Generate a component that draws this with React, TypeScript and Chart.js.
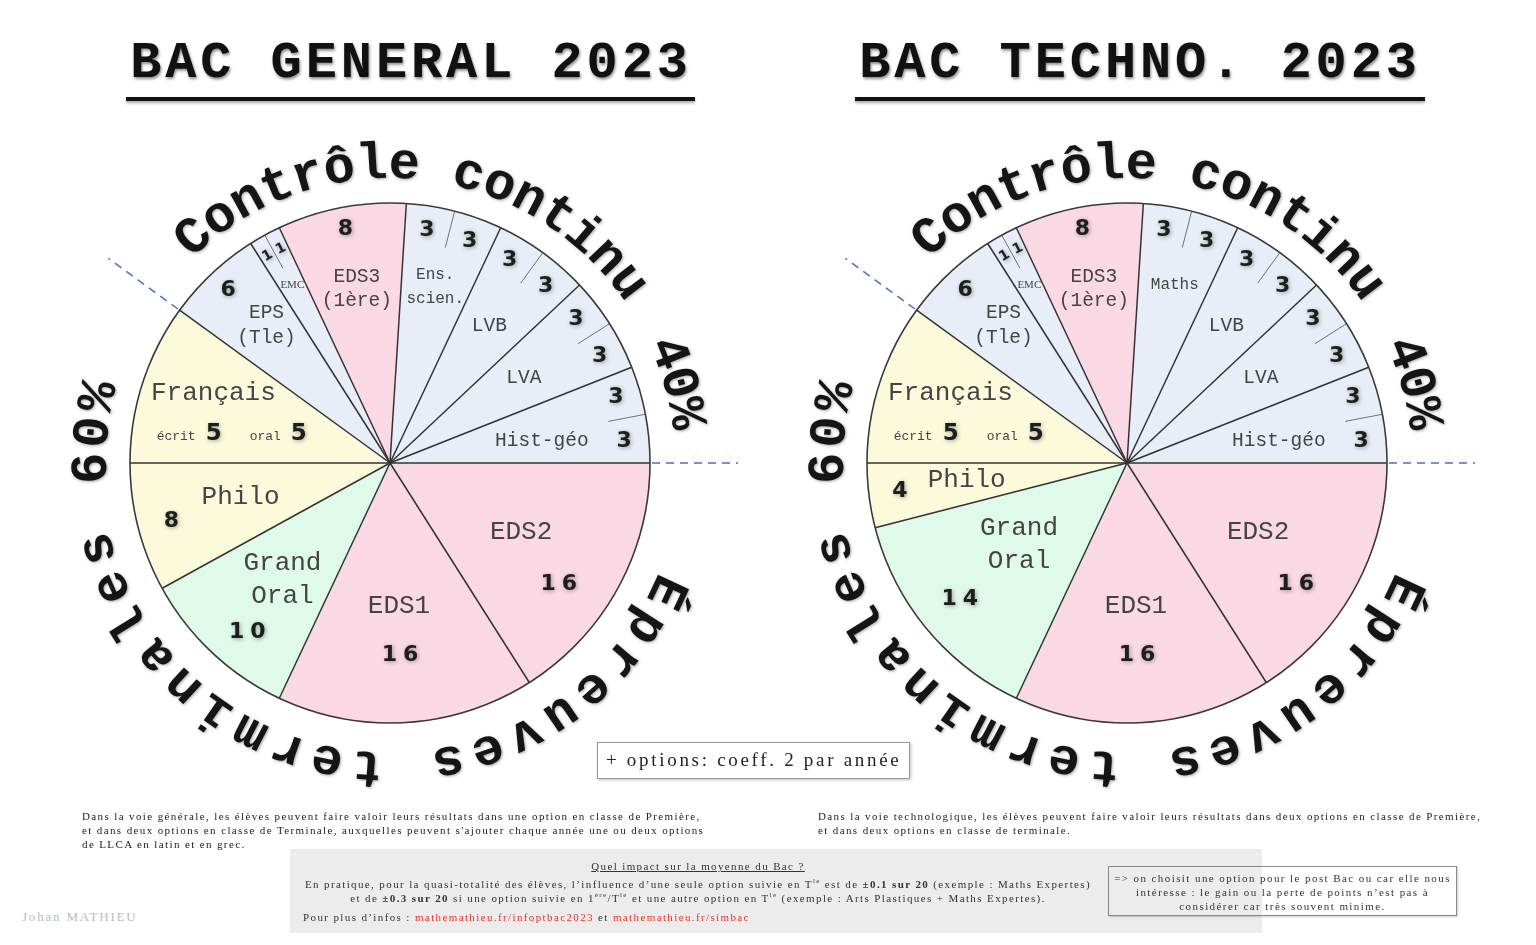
import React, { useEffect, useRef } from 'react';
import { Chart, registerables } from 'chart.js';
Chart.register(...registerables);

// ---------- DATA ----------
const GEN_SLICES = ['EDS2', 'EDS1', 'Grand Oral', 'Philo', 'Français', 'EPS (Tle)', 'EMC', 'EMC', 'EDS3 (1ère)', 'Ens. scien.', 'Ens. scien.', 'LVB', 'LVB', 'LVA', 'LVA', 'Hist-géo', 'Hist-géo'];
const GEN_COEFFS = [16, 16, 10, 8, 10, 6, 1, 1, 8, 3, 3, 3, 3, 3, 3, 3, 3];
const TECH_SLICES = ['EDS2', 'EDS1', 'Grand Oral', 'Philo', 'Français', 'EPS (Tle)', 'EMC', 'EMC', 'EDS3 (1ère)', 'Maths', 'Maths', 'LVB', 'LVB', 'LVA', 'LVA', 'Hist-géo', 'Hist-géo'];
const TECH_COEFFS = [16, 16, 14, 4, 10, 6, 1, 1, 8, 3, 3, 3, 3, 3, 3, 3, 3];
const FRANCAIS_PARTS = ['écrit', 'oral'];
const FRANCAIS_COEFFS = [5, 5];
const SPLIT_SLICES = ['EDS2', 'EPS (Tle)']; // boundaries 60% / 40%
const TOP_ARC_TEXT = 'Contrôle continu';
const RIGHT_PCT = '40%';
const LEFT_PCT = '60%';
const BOTTOM_ARC_TEXT = 'Épreuves terminales';
const TITLES = ['BAC GENERAL 2023', 'BAC TECHNO. 2023'];

// ---------- STYLE / LAYOUT ----------
const MONO = '"Liberation Mono", "Courier New", monospace';
const SERIF = '"Liberation Serif", "Times New Roman", serif';
const SANS = '"DejaVu Sans", Verdana, sans-serif';

function sliceColor(name: string) {
  if (name.startsWith('EDS')) return '#fad8e4';
  if (name === 'Grand Oral') return '#dff9eb';
  if (name === 'Philo' || name === 'Français') return '#fbfbdc';
  return '#e9edf8';
}

type NL = { r: number; da: number; size: number; lh: number; font?: string };
const BASE_NAME_LAYOUT: Record<string, NL> = {
  'EDS2': { r: 0.57, da: -1, size: 26, lh: 30 },
  'EDS1': { r: 0.55, da: 0, size: 26, lh: 30 },
  'Grand Oral': { r: 0.61, da: -0.5, size: 26, lh: 33 },
  'Philo': { r: 0.59, da: 1.4, size: 26, lh: 30 },
  'Français': { r: 0.73, da: 3.5, size: 26, lh: 30 },
  'EPS (Tle)': { r: 0.71, da: 1.2, size: 19.5, lh: 25 },
  'EMC': { r: 0.78, da: 0, size: 11, lh: 12, font: SERIF },
  'EDS3 (1ère)': { r: 0.68, da: 0, size: 19.5, lh: 24 },
  'Ens. scien.': { r: 0.70, da: 0, size: 16, lh: 24 },
  'Maths': { r: 0.71, da: 0.6, size: 16, lh: 24 },
  'LVB': { r: 0.65, da: 0, size: 19.5, lh: 24 },
  'LVA': { r: 0.61, da: 0, size: 19.5, lh: 24 },
  'Hist-géo': { r: 0.59, da: 2.6, size: 19.5, lh: 24 },
};
const GEN_NAME_LAYOUT = BASE_NAME_LAYOUT;
const TECH_NAME_LAYOUT: Record<string, NL> = {
  ...BASE_NAME_LAYOUT,
  'Grand Oral': { r: 0.52, da: 2.6, size: 26, lh: 33 },
  'Philo': { r: 0.62, da: 1.2, size: 26, lh: 30 },
};
const SUB_POS: [number, number] = [0.905, 0];
const GEN_VALUE_POS: [number, number][] = [[0.8, 7], [0.74, 0.6], [0.85, -3], [0.87, -0.6], [0.62, -7], [0.91, 0], [0.925, 0], [0.925, 0], [0.915, 0], SUB_POS, SUB_POS, SUB_POS, SUB_POS, SUB_POS, SUB_POS, SUB_POS, SUB_POS];
const TECH_VALUE_POS: [number, number][] = [[0.8, 7], [0.74, 0.6], [0.83, 0.4], [0.88, 0.2], [0.62, -7], [0.91, 0], [0.925, 0], [0.925, 0], [0.915, 0], SUB_POS, SUB_POS, SUB_POS, SUB_POS, SUB_POS, SUB_POS, SUB_POS, SUB_POS];

const CURVED = [
  { t: TOP_ARC_TEXT, start: -131, step: 6.25, r: 285 },
  { t: RIGHT_PCT, start: -21.5, step: 6, r: 285 },
  { t: LEFT_PCT, start: 179, step: 6.9, r: 284 },
  { t: BOTTOM_ARC_TEXT, start: 25, step: 7.7, r: 290 },
];

type Spec = { slices: string[]; coeffs: number[]; names: Record<string, NL>; vpos: [number, number][] };

function drawNumber(ctx: CanvasRenderingContext2D, text: string, x: number, y: number, size: number) {
  ctx.save();
  ctx.font = `bold ${size}px ${SANS}`;
  ctx.fillStyle = '#1e1e1e';
  ctx.shadowColor = 'rgba(0,0,0,0.35)';
  ctx.shadowBlur = 4;
  ctx.shadowOffsetX = 1;
  ctx.shadowOffsetY = 1;
  ctx.textBaseline = 'middle';
  const sp = text.length > 1 ? 6 : 0;
  (ctx as any).letterSpacing = sp + 'px';
  ctx.textAlign = 'left';
  const w = ctx.measureText(text).width - sp;
  ctx.fillText(text, x - w / 2, y);
  ctx.restore();
}

function makePlugin(spec: Spec) {
  return {
    id: 'decor',
    afterDatasetsDraw(chart: any) {
      const ctx: CanvasRenderingContext2D = chart.ctx;
      const arcs: any[] = chart.getDatasetMeta(0).data;
      const n = arcs.length;
      const cx = arcs[0].x, cy = arcs[0].y, R = arcs[0].outerRadius;
      const D = Math.PI / 180;
      const pt = (r: number, a: number) => [cx + r * Math.cos(a), cy + r * Math.sin(a)];
      ctx.save();
      // dividers
      arcs.forEach((arc, i) => {
        const prev = spec.slices[(i - 1 + n) % n];
        const a = arc.startAngle;
        ctx.beginPath();
        if (prev === spec.slices[i]) {
          const [x1, y1] = pt(R * 0.855, a);
          const [x2, y2] = pt(R, a);
          ctx.moveTo(x1, y1); ctx.lineTo(x2, y2);
          ctx.strokeStyle = '#707070'; ctx.lineWidth = 1;
        } else {
          const [x2, y2] = pt(R, a);
          ctx.moveTo(cx, cy); ctx.lineTo(x2, y2);
          ctx.strokeStyle = '#333'; ctx.lineWidth = 1.5;
        }
        ctx.stroke();
      });
      ctx.beginPath();
      ctx.arc(cx, cy, R, 0, Math.PI * 2);
      ctx.strokeStyle = '#3a3a3a'; ctx.lineWidth = 1.6; ctx.stroke();
      // dashed split lines
      SPLIT_SLICES.forEach((s) => {
        const idx = spec.slices.indexOf(s);
        const a = arcs[idx].startAngle;
        const [x1, y1] = pt(R + 2, a);
        const [x2, y2] = pt(R + 88, a);
        ctx.save();
        ctx.setLineDash([8, 6]);
        ctx.strokeStyle = '#4a6fc4'; ctx.lineWidth = 1.5;
        ctx.beginPath(); ctx.moveTo(x1, y1); ctx.lineTo(x2, y2); ctx.stroke();
        ctx.restore();
      });
      // group names
      let i = 0;
      while (i < n) {
        let j = i;
        while (j + 1 < n && spec.slices[j + 1] === spec.slices[i]) j++;
        const name = spec.slices[i];
        const L = spec.names[name];
        const mid = (arcs[i].startAngle + arcs[j].endAngle) / 2 + L.da * D;
        const [x, y] = pt(R * L.r, mid);
        const lines = name.split(' ');
        ctx.save();
        ctx.font = `${L.size}px ${L.font || MONO}`;
        ctx.fillStyle = '#444';
        ctx.textAlign = 'center';
        ctx.textBaseline = 'middle';
        lines.forEach((ln, k) => ctx.fillText(ln, x, y + (k - (lines.length - 1) / 2) * L.lh));
        ctx.restore();
        i = j + 1;
      }
      // values
      arcs.forEach((arc, k) => {
        const [rf, da] = spec.vpos[k];
        const mid = (arc.startAngle + arc.endAngle) / 2 + da * D;
        const [x, y] = pt(R * rf, mid);
        if (spec.slices[k] === 'Français') {
          ctx.save();
          const smallFont = `13px ${MONO}`;
          const numFont = `bold 23px ${SANS}`;
          const parts: { t: string; f: string; num: boolean }[] = [];
          FRANCAIS_PARTS.forEach((p, q) => {
            parts.push({ t: p, f: smallFont, num: false });
            parts.push({ t: String(FRANCAIS_COEFFS[q]), f: numFont, num: true });
          });
          const gaps = [10, 28, 10, 0];
          let total = 0;
          parts.forEach((p, q) => { ctx.font = p.f; total += ctx.measureText(p.t).width + gaps[q]; });
          let xx = x - total / 2;
          ctx.textBaseline = 'alphabetic';
          ctx.textAlign = 'left';
          parts.forEach((p, q) => {
            ctx.font = p.f;
            ctx.save();
            if (p.num) {
              ctx.fillStyle = '#1e1e1e';
              ctx.shadowColor = 'rgba(0,0,0,0.35)'; ctx.shadowBlur = 4; ctx.shadowOffsetX = 1; ctx.shadowOffsetY = 1;
            } else ctx.fillStyle = '#444';
            ctx.fillText(p.t, xx, y + 8);
            ctx.restore();
            xx += ctx.measureText(p.t).width + gaps[q];
          });
          ctx.restore();
          return;
        }
        const txt = String(spec.coeffs[k]);
        if (arc.endAngle - arc.startAngle < 5 * D) {
          ctx.save();
          ctx.translate(x, y);
          ctx.rotate(mid + Math.PI / 2);
          drawNumber(ctx, txt, 0, 0, 14);
          ctx.restore();
        } else {
          drawNumber(ctx, txt, x, y, 22);
        }
      });
      // curved texts
      ctx.font = `bold 52px ${MONO}`;
      ctx.fillStyle = '#151515';
      ctx.textAlign = 'center';
      ctx.textBaseline = 'alphabetic';
      ctx.shadowColor = 'rgba(0,0,0,0.35)';
      ctx.shadowBlur = 3; ctx.shadowOffsetX = 1; ctx.shadowOffsetY = 1;
      CURVED.forEach((c) => {
        Array.from(c.t).forEach((ch, q) => {
          const a = (c.start + q * c.step) * D;
          ctx.save();
          ctx.translate(cx + c.r * Math.cos(a), cy + c.r * Math.sin(a));
          ctx.rotate(a + Math.PI / 2);
          ctx.fillText(ch, 0, 0);
          ctx.restore();
        });
      });
      ctx.restore();
    },
  };
}

function PieCanvas({ spec, left, top }: { spec: Spec; left: number; top: number }) {
  const ref = useRef<HTMLCanvasElement>(null);
  useEffect(() => {
    const colors = spec.slices.map(sliceColor);
    const chart = new Chart(ref.current as HTMLCanvasElement, {
      type: 'pie',
      data: {
        labels: spec.slices,
        datasets: [{ data: spec.coeffs, backgroundColor: colors, borderColor: colors, borderWidth: 1, radius: 260 } as any],
      },
      options: {
        responsive: false,
        animation: false,
        rotation: 90,
        events: [],
        layout: { padding: { left: 110, right: 110, top: 90, bottom: 90 } },
        plugins: { legend: { display: false }, tooltip: { enabled: false }, title: { display: false } },
      } as any,
      plugins: [makePlugin(spec) as any],
    });
    return () => chart.destroy();
  }, []);
  return <canvas ref={ref} width={740} height={700} style={{ position: 'absolute', left, top, width: 740, height: 700 }} />;
}

const small: React.CSSProperties = { fontFamily: SERIF, fontSize: 11, letterSpacing: 1.38, lineHeight: '14px', color: '#222', whiteSpace: 'nowrap' };

export default function App() {
  const gen: Spec = { slices: GEN_SLICES, coeffs: GEN_COEFFS, names: GEN_NAME_LAYOUT, vpos: GEN_VALUE_POS };
  const tech: Spec = { slices: TECH_SLICES, coeffs: TECH_COEFFS, names: TECH_NAME_LAYOUT, vpos: TECH_VALUE_POS };
  const titleStyle: React.CSSProperties = { position: 'absolute', top: 38, width: 640, textAlign: 'center', fontFamily: MONO, fontWeight: 'bold', fontSize: 52, lineHeight: '52px', letterSpacing: 3.9, color: '#111', textShadow: '1px 2px 3px rgba(0,0,0,0.45)', whiteSpace: 'nowrap' };
  const lineStyle: React.CSSProperties = { position: 'absolute', top: 97, height: 4, background: '#111', boxShadow: '0 2px 3px rgba(0,0,0,0.35)' };
  const red = { color: '#e8332a' };
  const sup = { fontSize: 7, verticalAlign: 'super', lineHeight: 0 } as React.CSSProperties;
  return (
    <div style={{ position: 'fixed', left: 0, top: 0, width: 1536, height: 945, background: '#fff', overflow: 'hidden' }}>
      <PieCanvas spec={gen} left={20} top={113} />
      <PieCanvas spec={tech} left={757} top={113} />
      <div style={{ ...titleStyle, left: 411 - 320 }}>{TITLES[0]}</div>
      <div style={{ ...lineStyle, left: 126, width: 569 }} />
      <div style={{ ...titleStyle, left: 1140 - 320 }}>{TITLES[1]}</div>
      <div style={{ ...lineStyle, left: 855, width: 570 }} />

      <div style={{ position: 'absolute', left: 597, top: 742, width: 313, height: 37, boxSizing: 'border-box', border: '1.5px solid #999', boxShadow: '1px 1px 3px rgba(0,0,0,0.25)', background: '#fff', fontFamily: SERIF, fontSize: 19, letterSpacing: 2.7, lineHeight: '34px', color: '#222', paddingLeft: 8, whiteSpace: 'nowrap' }}>+ options: coeff. 2 par année</div>

      <div style={{ ...small, position: 'absolute', left: 82, top: 809 }}>
        Dans la voie générale, les élèves peuvent faire valoir leurs résultats dans une option en classe de Première,<br />
        et dans deux options en classe de Terminale, auxquelles peuvent s'ajouter chaque année une ou deux options<br />
        de LLCA en latin et en grec.
      </div>
      <div style={{ ...small, position: 'absolute', left: 818, top: 809 }}>
        Dans la voie technologique, les élèves peuvent faire valoir leurs résultats dans deux options en classe de Première,<br />
        et dans deux options en classe de terminale.
      </div>

      <div style={{ position: 'absolute', left: 290, top: 849, width: 972, height: 84, background: '#ececec' }} />
      <div style={{ ...small, color: '#333', position: 'absolute', left: 290, width: 816, top: 859, textAlign: 'center', textDecoration: 'underline' }}>Quel impact sur la moyenne du Bac ?</div>
      <div style={{ ...small, color: '#333', position: 'absolute', left: 290, width: 816, top: 877, textAlign: 'center' }}>
        En pratique, pour la quasi-totalité des élèves, l’influence d’une seule option suivie en T<span style={sup}>le</span> est de <b>±0.1 sur 20</b> (exemple : Maths Expertes)<br />
        et de <b>±0.3 sur 20</b> si une option suivie en 1<span style={sup}>ère</span>/T<span style={sup}>le</span> et une autre option en T<span style={sup}>le</span> (exemple : Arts Plastiques + Maths Expertes).
      </div>
      <div style={{ ...small, color: '#333', position: 'absolute', left: 303, top: 910 }}>
        Pour plus d’infos : <span style={red}>mathemathieu.fr/infoptbac2023</span> et <span style={red}>mathemathieu.fr/simbac</span>
      </div>

      <div style={{ ...small, letterSpacing: 1.42, color: '#333', position: 'absolute', left: 1108, top: 866, width: 349, height: 50, boxSizing: 'border-box', border: '1.5px solid #888', boxShadow: '1px 1px 2px rgba(0,0,0,0.2)', textAlign: 'center', paddingTop: 4 }}>
        =&gt; on choisit une option pour le post Bac ou car elle nous<br />
        intéresse : le gain ou la perte de points n’est pas à<br />
        considérer car très souvent minime.
      </div>

      <div style={{ position: 'absolute', left: 22, top: 909, fontFamily: SERIF, fontSize: 13, letterSpacing: 1.8, color: '#bbb', whiteSpace: 'nowrap' }}>Johan MATHIEU</div>
    </div>
  );
}
